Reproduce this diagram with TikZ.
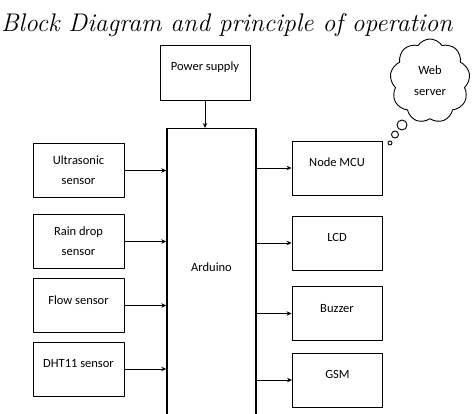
\documentclass[tikz,border=0pt]{standalone}
\usepackage{fontspec}
\setsansfont{Carlito}
\usetikzlibrary{arrows.meta,shapes.symbols}
\begin{document}
\begin{tikzpicture}[x=1pt,y=-1pt,line join=round,>={Stealth[length=5pt,width=4.5pt]}]
	\tikzset{blk/.style={draw,line width=0.9pt,inner sep=0pt,minimum width=91pt,minimum height=54pt,
			font=\sffamily\fontsize{12.5}{20}\selectfont,align=center},
		one/.style={text height=9pt,text depth=12pt}}
	\clip (0,0) rectangle (474,414);
	% title
	\node[anchor=base west,inner sep=0pt,font=\itshape\fontsize{25.5}{30}\selectfont] (ttl) at (1,32) {Block Diagram and principle of operation};
	% controller
	\node[blk,one,anchor=north,minimum width=89pt,minimum height=300pt,line width=1.4pt,text depth=24pt] (ard) at (211.5,128) {Arduino};
	\node[blk,one,minimum width=90pt,minimum height=55pt] (ps) at (205,72.5) {Power supply};
	% inputs
	\node[blk] (us) at (78.5,170.5) {Ultrasonic\\sensor};
	\node[blk] (rd) at (78.5,241.5) {Rain drop\\sensor};
	\node[blk,one] (fs) at (78.5,305.5) {Flow sensor};
	\node[blk,one] (dh) at (78.5,369) {DHT11 sensor};
	% outputs
	\node[blk,one,minimum width=90pt] (nm) at (337,168) {Node MCU};
	\node[blk,one,minimum width=90pt] (lcd) at (337,243) {LCD};
	\node[blk,one,minimum width=90pt] (bz) at (337,313.5) {Buzzer};
	\node[blk,one,minimum width=90pt] (gsm) at (337.5,380) {GSM};
	% cloud
	\node[cloud,draw,line width=0.9pt,cloud puffs=9,cloud puff arc=115,cloud ignores aspect,minimum width=80pt,minimum height=84pt,inner sep=0pt,
		align=center,font=\sffamily\fontsize{12.5}{21}\selectfont] (ws) at (430,81) {Web\\server};
	\node[circle,draw,line width=0.9pt,minimum size=10pt,inner sep=0pt] (b1) at (402,125) {};
	\node[circle,draw,line width=0.9pt,minimum size=7pt,inner sep=0pt] (b2) at (395,134.5) {};
	\node[circle,draw,line width=0.9pt,minimum size=4pt,inner sep=0pt] (b3) at (390,143) {};
	% arrows
	\draw[->,line width=0.9pt] (ps.south) -- (ps.south |- ard.north);
	\foreach \n in {us,rd,fs,dh}
	\draw[->,line width=0.9pt] (\n.east) -- (\n.east -| ard.west);
	\foreach \n in {nm,lcd,bz,gsm}
	\draw[->,line width=0.9pt] (\n.west -| ard.east) -- (\n.west);
\end{tikzpicture}
\end{document}
